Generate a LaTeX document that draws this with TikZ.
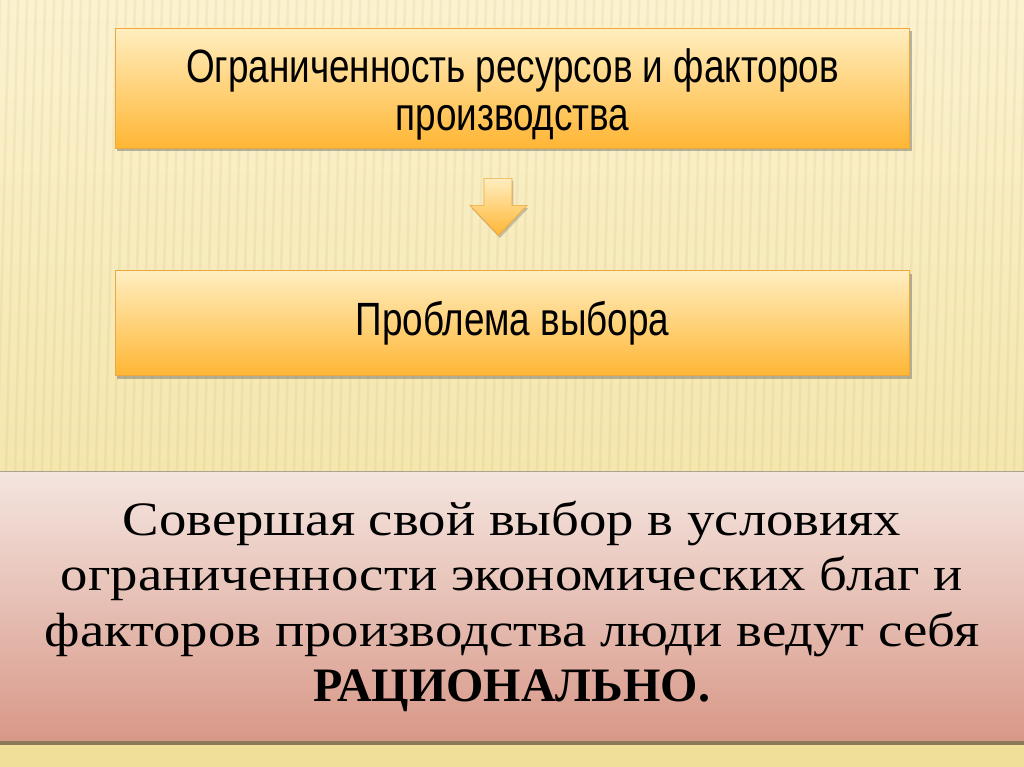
\documentclass[tikz,border=0pt]{standalone}
\usepackage{fontspec}
\setmainfont{Liberation Serif}
\newfontfamily\boxfont[FakeStretch=0.79]{Liberation Sans}
\newfontfamily\bandfont[FakeStretch=1.14]{Liberation Serif}
\usetikzlibrary{positioning,calc,shadows}

\definecolor{paperTop}{RGB}{251,242,208}
\definecolor{paperBot}{RGB}{240,223,152}
\definecolor{paperLine}{RGB}{200,170,90}
\definecolor{boxTop}{RGB}{255,238,192}
\definecolor{boxBot}{RGB}{255,182,52}
\definecolor{boxLine}{RGB}{234,168,62}
\definecolor{bandTop}{RGB}{244,229,223}
\definecolor{bandBot}{RGB}{216,152,136}
\definecolor{bandEdge}{RGB}{138,122,90}

\tikzset{
  factorbox/.style={rectangle, draw=boxLine, line width=0.6pt,
    top color=boxTop, bottom color=boxBot, minimum width=596pt,
    align=center, font=\boxfont\fontsize{35}{35.5}\selectfont,
    drop shadow={shadow xshift=1.5pt, shadow yshift=-2.5pt, fill=black!60, opacity=0.45}},
  conclusionband/.style={rectangle, inner sep=0pt, minimum width=768pt,
    minimum height=201.75pt, top color=bandTop, bottom color=bandBot,
    align=center, font=\bandfont\fontsize{36}{41.6}\selectfont},
}

\begin{document}
\begin{tikzpicture}[x=0.75pt, y=-0.75pt]
        \shade[top color=paperTop, bottom color=paperBot] (0,0) rectangle (1024,767);
        \useasboundingbox (0,0) rectangle (1024,767);
        \foreach \sx in {0,9,...,1040}
          \draw [paperLine, opacity=0.12, line width=2pt] (\sx,0) -- (\sx-12,472);
        \node [factorbox, minimum height=90pt] (resources) at (512.5,88) {\rule{0pt}{35pt}Ограниченность ресурсов и факторов\\производства};
        \node [factorbox, minimum height=78.75pt, below=91.5pt of resources] (choice) {Проблема выбора};
        % block arrow between the two boxes
        \path [top color=boxTop, bottom color=boxBot, draw=boxLine, line width=0.5pt,
               drop shadow={shadow xshift=1pt, shadow yshift=-2pt, fill=black!60, opacity=0.35}]
            ($(resources.south)+(-28.5,30)$) -- ($(resources.south)+(-0.5,30)$)
            -- ($(resources.south)+(-0.5,57)$) -- ($(resources.south)+(14.5,57)$)
            -- ($(resources.south)+(-14,87)$) -- ($(resources.south)+(-42.5,57)$)
            -- ($(resources.south)+(-28.5,57)$) -- cycle;
        \node [conclusionband] (conclusion) at (512,606.5) {Совершая свой выбор в условиях\\ограниченности экономических благ и\\факторов производства люди ведут себя\\{\normalfont\bfseries РАЦИОНАЛЬНО.}};
        \draw [bandEdge!70, line width=0.8pt] (conclusion.north west) -- (conclusion.north east);
        \draw [bandEdge, line width=3pt] ([yshift=-1pt]conclusion.south west) -- ([yshift=-1pt]conclusion.south east);
\end{tikzpicture}
\end{document}
